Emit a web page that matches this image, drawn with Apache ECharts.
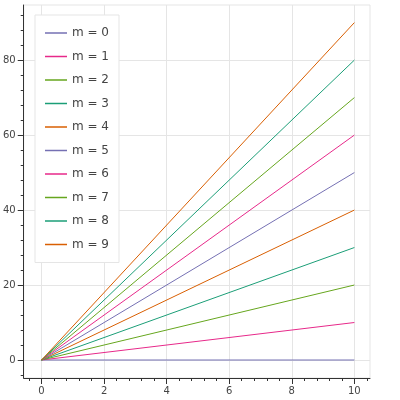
<!DOCTYPE html>
<html><head><meta charset="utf-8">
<script src="https://cdn.jsdelivr.net/npm/echarts@6/dist/echarts.min.js"></script>
<style>html,body{margin:0;padding:0;background:#fff}#c{width:400px;height:400px}</style>
</head><body><div id="c"></div>
<script>
const xs = [0, 10];
const names = ["m = 0","m = 1","m = 2","m = 3","m = 4","m = 5","m = 6","m = 7","m = 8","m = 9"];
const values = [[0,0],[0,10],[0,20],[0,30],[0,40],[0,50],[0,60],[0,70],[0,80],[0,90]];
const colors = ["#7570b3","#e7298a","#66a61e","#1b9e77","#d95f02","#7570b3","#e7298a","#66a61e","#1b9e77","#d95f02"];
const xTicks = [0,2,4,6,8,10];
const yTicks = [0,20,40,60,80];
const xMinor = [-0.4,0,0.4,0.8,1.2,1.6,2,2.4,2.8,3.2,3.6,4,4.4,4.8,5.2,5.6,6,6.4,6.8,7.2,7.6,8,8.4,8.8,9.2,9.6,10,10.4];
const yMinor = [-4,0,4,8,12,16,20,24,28,32,36,40,44,48,52,56,60,64,68,72,76,80,84,88,92];
const chart = echarts.init(document.getElementById('c'));
const lab = {color:'#444',fontSize:10,fontFamily:'DejaVu Sans'};
const xR = {min:-0.57,max:10.5}, yR = {min:-4.8,max:94.7};
chart.setOption({
  animation:false,
  grid:{left:22,right:30,top:5,bottom:22,show:true,borderColor:'#e5e5e5'},
  xAxis:[
    Object.assign({type:'value',position:'bottom',axisLine:{show:true,onZero:false,lineStyle:{color:'#333'}},
      axisLabel:Object.assign({customValues:xTicks},lab),
      axisTick:{show:true,customValues:xTicks,length:6,lineStyle:{color:'#333'}},
      splitLine:{show:true,lineStyle:{color:'#e5e5e5'}}},xR),
    Object.assign({type:'value',position:'bottom',axisLine:{show:false,onZero:false},
      axisLabel:{show:false},
      axisTick:{show:true,customValues:xMinor,length:3,lineStyle:{color:'#333'}},
      splitLine:{show:false}},xR)
  ],
  yAxis:[
    Object.assign({type:'value',position:'left',axisLine:{show:true,onZero:false,lineStyle:{color:'#333'}},
      axisLabel:Object.assign({customValues:yTicks},lab),
      axisTick:{show:true,customValues:yTicks,length:6,lineStyle:{color:'#333'}},
      splitLine:{show:true,lineStyle:{color:'#e5e5e5'}}},yR),
    Object.assign({type:'value',position:'left',axisLine:{show:false,onZero:false},
      axisLabel:{show:false},
      axisTick:{show:true,customValues:yMinor,length:3,lineStyle:{color:'#333'}},
      splitLine:{show:false}},yR)
  ],
  legend:{orient:'vertical',left:35,top:15,padding:[12,10,12,10],itemGap:11.5,
    backgroundColor:'#fff',borderColor:'#e5e5e5',borderWidth:1,
    icon:'rect',itemWidth:22,itemHeight:1.5,
    textStyle:{color:'#444',fontSize:12,fontFamily:'DejaVu Sans'},
    data:names},
  series:names.map((n,i)=>({name:n,type:'line',showSymbol:false,symbol:'none',
    xAxisIndex:0,yAxisIndex:0,
    data:xs.map((x,j)=>[x,values[i][j]]),
    lineStyle:{width:1,color:colors[i]},itemStyle:{color:colors[i]}}))
});
</script></body></html>
